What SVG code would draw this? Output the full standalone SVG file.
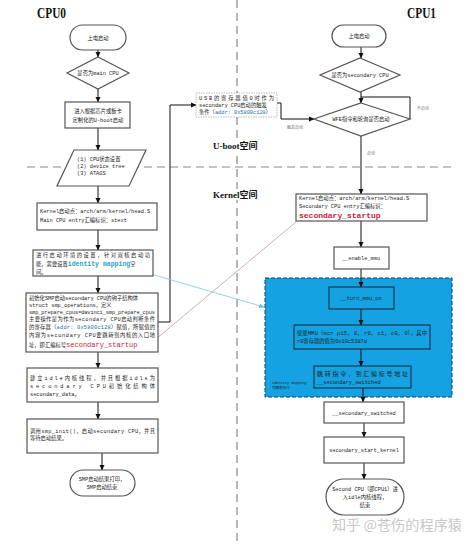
<svg xmlns="http://www.w3.org/2000/svg" width="474" height="545" viewBox="0 0 474 545">
<defs>
<marker id="ar" markerWidth="6" markerHeight="6" refX="5" refY="3" orient="auto" markerUnits="userSpaceOnUse"><path d="M0,0.5 L5.5,3 L0,5.5 Z" fill="#111"/></marker>
<marker id="arc" markerWidth="6" markerHeight="6" refX="5" refY="3" orient="auto" markerUnits="userSpaceOnUse"><path d="M0,0.5 L5.5,3 L0,5.5 Z" fill="#6cc0d8"/></marker>
<style>
.b{fill:#fff;stroke:#555;stroke-width:1.2}
.bi{fill:none;stroke:#223;stroke-width:1}
.t{font-family:"Liberation Mono","Noto Sans CJK SC",monospace;font-size:5.3px;fill:#222}
.c{text-anchor:middle}
.c1{stroke:#111;stroke-width:1;fill:none}
.lab{font-family:"Noto Sans CJK SC",sans-serif;font-size:4px;fill:#777}
.red{fill:#d0203a;font-weight:bold}
.blu{fill:#1b6db0}
.ttl{font-family:"Liberation Serif",serif;font-size:15px;font-weight:bold;fill:#111}
.sp{font-family:"Liberation Serif","Noto Sans CJK SC",serif;font-size:9px;font-weight:bold;fill:#111}
</style>
</defs>
<rect width="474" height="545" fill="#fff"/>
<g id="guides" stroke="#888" stroke-width="1.2" stroke-dasharray="8,5" fill="none">
<line x1="237" y1="0" x2="237" y2="545"/>
<line x1="27" y1="167" x2="452" y2="167"/>
</g>
<text class="ttl" x="37" y="18" textLength="29" lengthAdjust="spacingAndGlyphs">CPU0</text>
<text class="ttl" x="407" y="18" textLength="29" lengthAdjust="spacingAndGlyphs">CPU1</text>
<rect x="212" y="140" width="50" height="11" fill="#fff"/>
<rect x="212" y="189" width="50" height="11" fill="#fff"/>
<text class="sp" x="213" y="149">U-boot空间</text>
<text class="sp" x="213" y="198">Kernel空间</text>

<g id="blueRegion"><rect x="265" y="278" width="187" height="119" fill="#14a2e2" stroke="#1a3c5a" stroke-width="1" stroke-dasharray="4,2"/>
<text class="t" x="272" y="384" style="font-size:3.6px">identity mapping</text>
<text class="t" x="272" y="389" style="font-size:3.6px">可映射执行</text></g>

<g id="connectors">
<path class="c1" d="M98,50V57" marker-end="url(#ar)"/>
<path class="c1" d="M98,89V102" marker-end="url(#ar)"/>
<path class="c1" d="M98,128V150" marker-end="url(#ar)"/>
<path class="c1" d="M98,186V203" marker-end="url(#ar)"/>
<path class="c1" d="M98,230V250" marker-end="url(#ar)"/>
<path class="c1" d="M98,276V293" marker-end="url(#ar)"/>
<path class="c1" d="M98,352V368" marker-end="url(#ar)"/>
<path class="c1" d="M98,402V419" marker-end="url(#ar)"/>
<path class="c1" d="M102,453V470" marker-end="url(#ar)"/>
<path class="c1" d="M158,322H170V105H196" marker-end="url(#ar)"/>
<path class="c1" d="M277,103H281V119H314" marker-end="url(#ar)"/>
<path class="c1" d="M361,47V58" marker-end="url(#ar)"/>
<path class="c1" d="M361,92V103" marker-end="url(#ar)"/>
<path class="c1" d="M410,119V97H361"/>
<path class="c1" d="M361,136V194" marker-end="url(#ar)"/>
<path class="c1" d="M361,221V247" marker-end="url(#ar)"/>
<path class="c1" d="M361,269V287" marker-end="url(#ar)"/>
<path class="c1" d="M361,309V325" marker-end="url(#ar)"/>
<path class="c1" d="M361,349V366" marker-end="url(#ar)"/>
<path class="c1" d="M363,388V402" marker-end="url(#ar)"/>
<path class="c1" d="M364,423V437" marker-end="url(#ar)"/>
<path class="c1" d="M364,463V479" marker-end="url(#ar)"/>
<path d="M130,268L264,307" stroke="#7cc8dc" stroke-width="0.8" fill="none" marker-end="url(#arc)"/>
<path d="M150,344L296,222" stroke="#c89a96" stroke-width="0.8" fill="none"/>
<text class="lab" x="287" y="129">触发启动</text>
<text class="lab" x="417" y="110">不启动</text>
<text class="lab" x="367" y="155">启动</text>
</g>

<g id="c0start"><rect class="b" x="70" y="25" width="56" height="25" rx="12.5"/><text class="t c" x="98" y="40">上电启动</text></g>
<g id="c0main"><polygon class="b" points="98,57 129,73 98,89 67,73"/><text class="t c" x="98" y="75">是否为main CPU</text></g>
<g id="c0uboot"><rect class="b" x="65" y="102" width="65" height="26"/><text class="t c" x="98" y="113">进入根据芯片或板卡</text><text class="t c" x="98" y="122">定制化的U-boot启动</text></g>
<g id="c0params"><polygon class="b" points="74,150 146,150 129,186 57,186"/><text class="t" x="77" y="161">(1) CPU状态设置</text><text class="t" x="77" y="168">(2) device tree</text><text class="t" x="77" y="175">(3) ATAGS</text></g>
<g id="c0kernel"><rect class="b" x="37" y="203" width="120" height="27"/><text class="t" x="40" y="213">Kernel启动点：arch/arm/kernel/head.S</text><text class="t" x="40" y="222">Main CPU entry汇编标识：stext</text></g>
<g id="c0env"><rect class="b" x="33" y="250" width="120" height="26"/><text class="t" x="36" y="257" textLength="114" lengthAdjust="spacing">进行启动环境的设置，针对双核启动功</text><text class="t" x="36" y="266">能，需要设置<tspan fill="#2aa0c8" font-weight="bold" font-size="6.5">identity mapping</tspan>空</text><text class="t" x="36" y="274">间。</text></g>
<g id="c0smp"><rect class="b" x="26" y="293" width="132" height="59"/>
<text class="t" x="29" y="300">初始化SMP启动secondary CPU的钩子结构体</text>
<text class="t" x="29" y="307">struct smp_operations，定义</text>
<text class="t" x="29" y="314" textLength="126" lengthAdjust="spacing">smp_prepare_cpus=davinci_smp_prepare_cpus</text>
<text class="t" x="29" y="321" textLength="126" lengthAdjust="spacing">主要操作是为作为secondary CPU启动判断条件</text>
<text class="t" x="29" y="329" textLength="126" lengthAdjust="spacing">的寄存器（<tspan class="blu">addr: 0x5800c128</tspan>）赋值，所赋值的</text>
<text class="t" x="29" y="337" textLength="126" lengthAdjust="spacing">内容为secondary CPU要跳转到内核的入口地</text>
<text class="t" x="29" y="347">址，即汇编标号<tspan fill="#d0203a" font-size="7">secondary_startup</tspan></text></g>
<g id="c0idle"><rect class="b" x="27" y="368" width="131" height="34"/><text class="t" x="30" y="380" textLength="125" lengthAdjust="spacing">建立idle内核线程，并且根据idle为</text><text class="t" x="30" y="388" textLength="125" lengthAdjust="spacing">secondary CPU初始化结构体</text><text class="t" x="30" y="396">secondary_data。</text></g>
<g id="c0init"><rect class="b" x="27" y="419" width="131" height="34"/><text class="t" x="30" y="433" textLength="125" lengthAdjust="spacing">调用smp_init()，启动secondary CPU，并且</text><text class="t" x="30" y="440">等待启动结果。</text></g>
<g id="c0end"><rect class="b" x="70" y="470" width="65" height="26" rx="13"/><text class="t c" x="102" y="481">SMP启动结果打印，</text><text class="t c" x="102" y="489">SMP启动结束</text></g>

<g id="usbReg"><rect x="196" y="93" width="81" height="24" fill="#fff" stroke="#aaa" stroke-width="0.8" stroke-dasharray="1.5,1"/><text class="t" x="199" y="100" textLength="75" lengthAdjust="spacing">USB的寄存器值0时作为</text><text class="t" x="199" y="107">secondary CPU启动的触发</text><text class="t" x="199" y="114">条件（<tspan class="blu">addr: 0x5800c128</tspan>）</text></g>

<g id="c1start"><rect class="b" x="332" y="25" width="54" height="22" rx="11"/><text class="t c" x="359" y="38">上电启动</text></g>
<g id="c1sec"><polygon class="b" points="360,58 400,75 360,92 320,75"/><text class="t c" x="360" y="77">是否为secondary CPU</text></g>
<g id="c1wfe"><polygon class="b" points="361,103 410,119 361,136 314,119"/><text class="t c" x="361" y="121">WFE指令和轮询是否启动</text></g>
<g id="c1kernel"><rect class="b" x="296" y="194" width="131" height="27"/><text class="t" x="299" y="200">Kernel启动点：arch/arm/kernel/head.S</text><text class="t" x="299" y="208">Secondary CPU entry汇编标识：</text><text class="t red" x="299" y="218" style="font-size:8px">secondary_startup</text></g>
<g id="c1enable"><rect class="b" x="334" y="247" width="55" height="22"/><text class="t c" x="361" y="260">__enable_mmu</text></g>
<g id="c1turn"><rect class="bi" x="329" y="287" width="65" height="22"/><text class="t c" x="361" y="300">__turn_mmu_on</text></g>
<g id="c1mmu"><rect class="bi" x="294" y="325" width="136" height="24"/><text class="t" x="297" y="335" textLength="130" lengthAdjust="spacing">使能MMU（mcr p15, 0, r0, c1, c0, 0），其中</text><text class="t" x="297" y="343">r0寄存器的值为0x10c5387d</text></g>
<g id="c1jump"><rect class="bi" x="314" y="366" width="97" height="22"/><text class="t" x="317" y="376" textLength="91" lengthAdjust="spacing" style="font-size:6px">跳转指令，到汇编标号地址</text><text class="t" x="317" y="384">__secondary_switched</text></g>
<g id="c1switched"><rect class="b" x="324" y="402" width="80" height="21"/><text class="t c" x="364" y="415">__secondary_switched</text></g>
<g id="c1startk"><rect class="b" x="324" y="437" width="80" height="26"/><text class="t c" x="364" y="452">secondary_start_kernel</text></g>
<g id="c1end"><rect class="b" x="326" y="479" width="78" height="36" rx="18"/><text class="t c" x="365" y="491">Second CPU（即CPU1）进</text><text class="t c" x="365" y="499">入idle内核线程，</text><text class="t c" x="365" y="507">结束</text></g>

<text x="332" y="530" font-family="Noto Sans CJK SC,sans-serif" font-size="14" fill="#c8c8c8" textLength="130" lengthAdjust="spacingAndGlyphs">知乎 @苍伤的程序猿</text>
</svg>
